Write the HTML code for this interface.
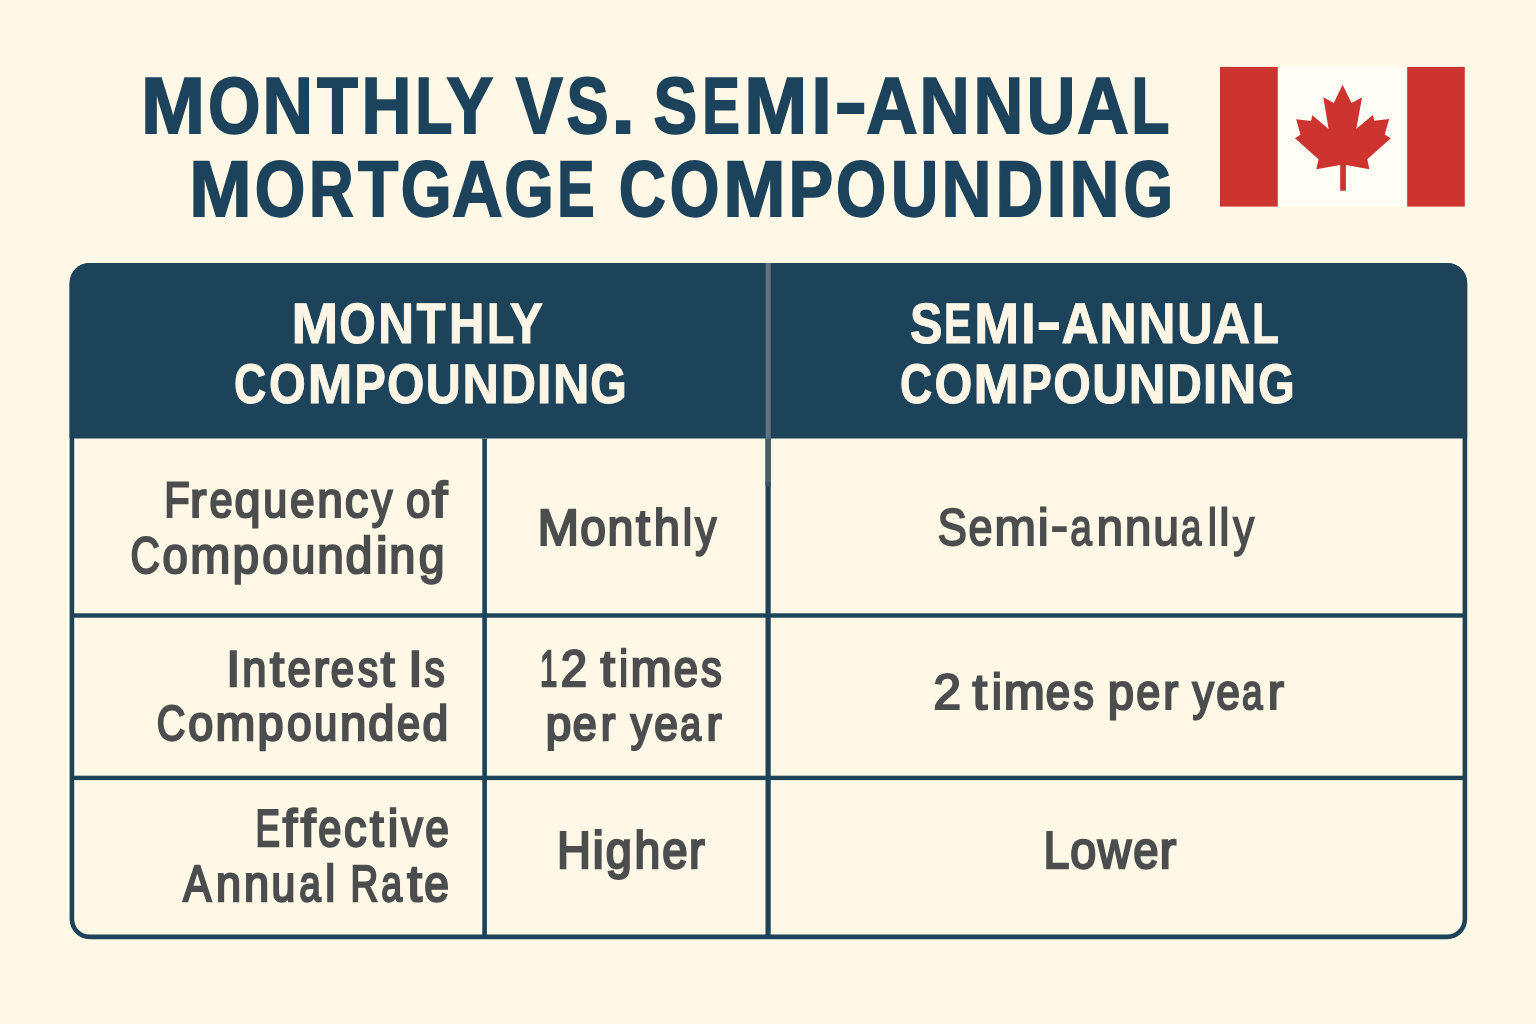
<!DOCTYPE html>
<html lang="en">
<head>
<meta charset="utf-8">
<title>Monthly vs. Semi-Annual Mortgage Compounding</title>
<style>
html,body{margin:0;padding:0;}
body{width:1536px;height:1024px;overflow:hidden;background:#fff8e6;position:relative;font-family:"Liberation Sans",sans-serif;}
#art{position:absolute;left:0;top:0;width:1536px;height:1024px;display:block;will-change:transform;transform:translateZ(0);}
#art text{font-family:"Liberation Sans",sans-serif;text-rendering:geometricPrecision;stroke-linejoin:miter;stroke-miterlimit:3;white-space:pre;}
</style>
</head>
<body>
<svg id="art" width="1536" height="1024" viewBox="0 0 1536 1024">
  <!-- table frame -->
  <rect x="71.9" y="265.3" width="1393" height="671.6" rx="17.8" ry="17.8" fill="#fff8e6" stroke="#1c4359" stroke-width="4.6"/>
  <!-- header band -->
  <path d="M69.6 438.6 V283 A20 20 0 0 1 89.6 263 H1447.2 A20 20 0 0 1 1467.2 283 V438.6 Z" fill="#1c4359"/>
  <!-- header divider (light) -->
  <rect x="765.6" y="263" width="5.2" height="175.6" fill="#5f727d"/>
  <!-- body dividers -->
  <rect x="482.3" y="438.6" width="4.6" height="498" fill="#1c4359"/>
  <rect x="765.5" y="438.6" width="5.2" height="498" fill="#1c4359"/>
  <rect x="765.5" y="438.6" width="5.2" height="44" fill="#4a6068"/>
  <rect x="765.5" y="482.6" width="5.2" height="4" fill="#33525f"/>
  <rect x="70" y="613.3" width="1396" height="4.4" fill="#1c4359"/>
  <rect x="70" y="775.7" width="1396" height="4.4" fill="#1c4359"/>
  <!-- flag -->
  <rect x="1220" y="66.9" width="244.8" height="139.7" fill="#fffef4"/>
  <rect x="1220" y="66.9" width="57.8" height="139.7" fill="#cd3430"/>
  <rect x="1407.2" y="66.9" width="57.6" height="139.7" fill="#cd3430"/>
  <polygon points="1342.6,84.8 1351.5,103.1 1362.1,97.2 1356.3,128.7 1372.9,115.0 1374.3,120.8 1389.2,118.9 1384.7,134.4 1390.8,138.2 1367.3,159.2 1369.4,169.2 1345.9,165.0 1345.9,190.7 1340.2,190.7 1340.2,165.0 1316.3,169.2 1318.5,159.2 1295.0,138.2 1300.5,134.8 1296.2,119.2 1311.1,121.1 1312.3,115.3 1328.6,129.0 1323.3,97.2 1333.8,103.1" fill="#cd3430"/>
  <!-- text -->
  <text y="133" font-size="79.58" font-weight="bold" fill="#1c435b" stroke="#1c435b" stroke-width="1.8"><tspan x="140.94" textLength="64.05" lengthAdjust="spacingAndGlyphs">M</tspan><tspan x="208.00" textLength="52.39" lengthAdjust="spacingAndGlyphs">O</tspan><tspan x="262.60" textLength="50.39" lengthAdjust="spacingAndGlyphs">N</tspan><tspan x="317.02" textLength="40.93" lengthAdjust="spacingAndGlyphs">T</tspan><tspan x="361.47" textLength="49.91" lengthAdjust="spacingAndGlyphs">H</tspan><tspan x="415.32" textLength="37.17" lengthAdjust="spacingAndGlyphs">L</tspan><tspan x="446.62" textLength="46.78" lengthAdjust="spacingAndGlyphs">Y</tspan></text>
  <text y="133" font-size="79.58" font-weight="bold" fill="#1c435b" stroke="#1c435b" stroke-width="1.8"><tspan x="515.79" textLength="47.11" lengthAdjust="spacingAndGlyphs">V</tspan><tspan x="566.43" textLength="42.03" lengthAdjust="spacingAndGlyphs">S</tspan><tspan x="611.05" textLength="24.34" lengthAdjust="spacingAndGlyphs">.</tspan></text>
  <text y="133" font-size="79.58" font-weight="bold" fill="#1c435b" stroke="#1c435b" stroke-width="1.8"><tspan x="653.54" textLength="43.66" lengthAdjust="spacingAndGlyphs">S</tspan><tspan x="702.16" textLength="37.62" lengthAdjust="spacingAndGlyphs">E</tspan><tspan x="744.13" textLength="63.02" lengthAdjust="spacingAndGlyphs">M</tspan><tspan x="811.61" textLength="20.00" lengthAdjust="spacingAndGlyphs">I</tspan><tspan x="834.50" y="129" textLength="32.52" lengthAdjust="spacingAndGlyphs">-</tspan><tspan x="866.16" y="133" textLength="51.37" lengthAdjust="spacingAndGlyphs">A</tspan><tspan x="919.45" textLength="50.26" lengthAdjust="spacingAndGlyphs">N</tspan><tspan x="973.45" textLength="49.79" lengthAdjust="spacingAndGlyphs">N</tspan><tspan x="1026.78" textLength="48.61" lengthAdjust="spacingAndGlyphs">U</tspan><tspan x="1077.16" textLength="51.40" lengthAdjust="spacingAndGlyphs">A</tspan><tspan x="1131.13" textLength="38.23" lengthAdjust="spacingAndGlyphs">L</tspan></text>
  <text y="216" font-size="79.00" font-weight="bold" fill="#1c435b" stroke="#1c435b" stroke-width="1.8"><tspan x="189.23" textLength="62.36" lengthAdjust="spacingAndGlyphs">M</tspan><tspan x="254.87" textLength="50.53" lengthAdjust="spacingAndGlyphs">O</tspan><tspan x="308.91" textLength="44.63" lengthAdjust="spacingAndGlyphs">R</tspan><tspan x="358.02" textLength="40.36" lengthAdjust="spacingAndGlyphs">T</tspan><tspan x="400.83" textLength="50.88" lengthAdjust="spacingAndGlyphs">G</tspan><tspan x="451.99" textLength="50.60" lengthAdjust="spacingAndGlyphs">A</tspan><tspan x="504.14" textLength="49.50" lengthAdjust="spacingAndGlyphs">G</tspan><tspan x="557.19" textLength="37.28" lengthAdjust="spacingAndGlyphs">E</tspan></text>
  <text y="216" font-size="79.00" font-weight="bold" fill="#1c435b" stroke="#1c435b" stroke-width="1.8"><tspan x="618.84" textLength="47.16" lengthAdjust="spacingAndGlyphs">C</tspan><tspan x="669.68" textLength="49.62" lengthAdjust="spacingAndGlyphs">O</tspan><tspan x="723.23" textLength="62.36" lengthAdjust="spacingAndGlyphs">M</tspan><tspan x="788.55" textLength="44.67" lengthAdjust="spacingAndGlyphs">P</tspan><tspan x="835.95" textLength="50.17" lengthAdjust="spacingAndGlyphs">O</tspan><tspan x="890.92" textLength="47.25" lengthAdjust="spacingAndGlyphs">U</tspan><tspan x="941.52" textLength="49.98" lengthAdjust="spacingAndGlyphs">N</tspan><tspan x="995.67" textLength="47.51" lengthAdjust="spacingAndGlyphs">D</tspan><tspan x="1046.54" textLength="19.97" lengthAdjust="spacingAndGlyphs">I</tspan><tspan x="1069.52" textLength="49.98" lengthAdjust="spacingAndGlyphs">N</tspan><tspan x="1123.48" textLength="49.57" lengthAdjust="spacingAndGlyphs">G</tspan></text>
  <text y="343" font-size="57.07" font-weight="bold" fill="#fdf6e6" stroke="#fdf6e6" stroke-width="1.0"><tspan x="291.41" textLength="46.82" lengthAdjust="spacingAndGlyphs">M</tspan><tspan x="339.18" textLength="36.52" lengthAdjust="spacingAndGlyphs">O</tspan><tspan x="378.35" textLength="35.80" lengthAdjust="spacingAndGlyphs">N</tspan><tspan x="416.47" textLength="29.13" lengthAdjust="spacingAndGlyphs">T</tspan><tspan x="448.89" textLength="35.42" lengthAdjust="spacingAndGlyphs">H</tspan><tspan x="486.91" textLength="27.30" lengthAdjust="spacingAndGlyphs">L</tspan><tspan x="509.66" textLength="33.15" lengthAdjust="spacingAndGlyphs">Y</tspan></text>
  <text y="403" font-size="55.77" font-weight="bold" fill="#fdf6e6" stroke="#fdf6e6" stroke-width="1.0"><tspan x="234.01" textLength="32.26" lengthAdjust="spacingAndGlyphs">C</tspan><tspan x="268.97" textLength="36.75" lengthAdjust="spacingAndGlyphs">O</tspan><tspan x="307.71" textLength="44.63" lengthAdjust="spacingAndGlyphs">M</tspan><tspan x="354.49" textLength="31.33" lengthAdjust="spacingAndGlyphs">P</tspan><tspan x="386.88" textLength="37.41" lengthAdjust="spacingAndGlyphs">O</tspan><tspan x="425.87" textLength="34.99" lengthAdjust="spacingAndGlyphs">U</tspan><tspan x="462.56" textLength="36.37" lengthAdjust="spacingAndGlyphs">N</tspan><tspan x="500.93" textLength="34.96" lengthAdjust="spacingAndGlyphs">D</tspan><tspan x="536.72" textLength="14.77" lengthAdjust="spacingAndGlyphs">I</tspan><tspan x="552.95" textLength="36.39" lengthAdjust="spacingAndGlyphs">N</tspan><tspan x="590.25" textLength="36.51" lengthAdjust="spacingAndGlyphs">G</tspan></text>
  <text y="343" font-size="57.07" font-weight="bold" fill="#fdf6e6" stroke="#fdf6e6" stroke-width="1.0"><tspan x="910.06" textLength="32.41" lengthAdjust="spacingAndGlyphs">S</tspan><tspan x="944.09" textLength="27.37" lengthAdjust="spacingAndGlyphs">E</tspan><tspan x="974.21" textLength="44.89" lengthAdjust="spacingAndGlyphs">M</tspan><tspan x="1021.22" textLength="14.39" lengthAdjust="spacingAndGlyphs">I</tspan><tspan x="1036.64" y="341" textLength="24.81" lengthAdjust="spacingAndGlyphs">-</tspan><tspan x="1061.62" y="343" textLength="37.13" lengthAdjust="spacingAndGlyphs">A</tspan><tspan x="1099.54" textLength="37.25" lengthAdjust="spacingAndGlyphs">N</tspan><tspan x="1138.81" textLength="36.72" lengthAdjust="spacingAndGlyphs">N</tspan><tspan x="1177.31" textLength="35.37" lengthAdjust="spacingAndGlyphs">U</tspan><tspan x="1212.27" textLength="37.86" lengthAdjust="spacingAndGlyphs">A</tspan><tspan x="1251.91" textLength="27.01" lengthAdjust="spacingAndGlyphs">L</tspan></text>
  <text y="403" font-size="55.77" font-weight="bold" fill="#fdf6e6" stroke="#fdf6e6" stroke-width="1.0"><tspan x="900.01" textLength="32.26" lengthAdjust="spacingAndGlyphs">C</tspan><tspan x="934.44" textLength="37.88" lengthAdjust="spacingAndGlyphs">O</tspan><tspan x="973.62" textLength="45.20" lengthAdjust="spacingAndGlyphs">M</tspan><tspan x="1020.97" textLength="30.85" lengthAdjust="spacingAndGlyphs">P</tspan><tspan x="1053.15" textLength="37.64" lengthAdjust="spacingAndGlyphs">O</tspan><tspan x="1092.34" textLength="35.00" lengthAdjust="spacingAndGlyphs">U</tspan><tspan x="1128.83" textLength="36.71" lengthAdjust="spacingAndGlyphs">N</tspan><tspan x="1167.48" textLength="34.43" lengthAdjust="spacingAndGlyphs">D</tspan><tspan x="1202.64" textLength="14.57" lengthAdjust="spacingAndGlyphs">I</tspan><tspan x="1219.26" textLength="37.04" lengthAdjust="spacingAndGlyphs">N</tspan><tspan x="1258.00" textLength="36.74" lengthAdjust="spacingAndGlyphs">G</tspan></text>
  <text y="517" font-size="49.96" font-weight="normal" fill="#4b4d4e" stroke="#4b4d4e" stroke-width="2.2"><tspan x="164.17" textLength="25.43" lengthAdjust="spacingAndGlyphs">F</tspan><tspan x="190.08" textLength="16.49" lengthAdjust="spacingAndGlyphs">r</tspan><tspan x="209.62" textLength="23.17" lengthAdjust="spacingAndGlyphs">e</tspan><tspan x="234.58" textLength="26.00" lengthAdjust="spacingAndGlyphs">q</tspan><tspan x="263.25" textLength="24.01" lengthAdjust="spacingAndGlyphs">u</tspan><tspan x="289.88" textLength="24.64" lengthAdjust="spacingAndGlyphs">e</tspan><tspan x="317.29" textLength="25.62" lengthAdjust="spacingAndGlyphs">n</tspan><tspan x="344.82" textLength="23.62" lengthAdjust="spacingAndGlyphs">c</tspan><tspan x="371.71" textLength="20.63" lengthAdjust="spacingAndGlyphs">y</tspan></text>
  <text y="517" font-size="49.96" font-weight="normal" fill="#4b4d4e" stroke="#4b4d4e" stroke-width="2.2"><tspan x="405.89" textLength="24.30" lengthAdjust="spacingAndGlyphs">o</tspan><tspan x="432.13" textLength="15.29" lengthAdjust="spacingAndGlyphs">f</tspan></text>
  <text y="573" font-size="51.41" font-weight="normal" fill="#4b4d4e" stroke="#4b4d4e" stroke-width="2.2"><tspan x="130.45" textLength="29.33" lengthAdjust="spacingAndGlyphs">C</tspan><tspan x="162.41" textLength="25.33" lengthAdjust="spacingAndGlyphs">o</tspan><tspan x="190.32" textLength="40.05" lengthAdjust="spacingAndGlyphs">m</tspan><tspan x="232.56" textLength="26.62" lengthAdjust="spacingAndGlyphs">p</tspan><tspan x="262.34" textLength="26.18" lengthAdjust="spacingAndGlyphs">o</tspan><tspan x="291.49" textLength="23.70" lengthAdjust="spacingAndGlyphs">u</tspan><tspan x="317.30" textLength="26.59" lengthAdjust="spacingAndGlyphs">n</tspan><tspan x="345.58" textLength="26.86" lengthAdjust="spacingAndGlyphs">d</tspan><tspan x="375.79" textLength="12.06" lengthAdjust="spacingAndGlyphs">i</tspan><tspan x="389.28" textLength="26.11" lengthAdjust="spacingAndGlyphs">n</tspan><tspan x="418.66" textLength="25.75" lengthAdjust="spacingAndGlyphs">g</tspan></text>
  <text y="545" font-size="50.97" font-weight="normal" fill="#4b4d4e" stroke="#4b4d4e" stroke-width="2.2"><tspan x="537.48" textLength="41.66" lengthAdjust="spacingAndGlyphs">M</tspan><tspan x="580.27" textLength="25.76" lengthAdjust="spacingAndGlyphs">o</tspan><tspan x="607.51" textLength="25.92" lengthAdjust="spacingAndGlyphs">n</tspan><tspan x="636.07" textLength="13.98" lengthAdjust="spacingAndGlyphs">t</tspan><tspan x="653.83" textLength="26.22" lengthAdjust="spacingAndGlyphs">h</tspan><tspan x="682.69" textLength="9.37" lengthAdjust="spacingAndGlyphs">l</tspan><tspan x="695.21" textLength="21.02" lengthAdjust="spacingAndGlyphs">y</tspan></text>
  <text y="545" font-size="51.99" font-weight="normal" fill="#4b4d4e" stroke="#4b4d4e" stroke-width="1.8"><tspan x="937.60" textLength="29.51" lengthAdjust="spacingAndGlyphs">S</tspan><tspan x="968.58" textLength="24.09" lengthAdjust="spacingAndGlyphs">e</tspan><tspan x="994.22" textLength="41.89" lengthAdjust="spacingAndGlyphs">m</tspan><tspan x="1037.49" textLength="11.46" lengthAdjust="spacingAndGlyphs">i</tspan><tspan x="1050.69" y="543" textLength="17.34" lengthAdjust="spacingAndGlyphs">-</tspan><tspan x="1070.20" y="545" textLength="21.66" lengthAdjust="spacingAndGlyphs">a</tspan><tspan x="1096.49" textLength="26.66" lengthAdjust="spacingAndGlyphs">n</tspan><tspan x="1124.73" textLength="26.74" lengthAdjust="spacingAndGlyphs">n</tspan><tspan x="1153.30" textLength="25.74" lengthAdjust="spacingAndGlyphs">u</tspan><tspan x="1181.09" textLength="20.35" lengthAdjust="spacingAndGlyphs">a</tspan><tspan x="1207.64" textLength="9.32" lengthAdjust="spacingAndGlyphs">l</tspan><tspan x="1219.35" textLength="10.26" lengthAdjust="spacingAndGlyphs">l</tspan><tspan x="1233.21" textLength="20.95" lengthAdjust="spacingAndGlyphs">y</tspan></text>
  <text y="686" font-size="50.46" font-weight="normal" fill="#4b4d4e" stroke="#4b4d4e" stroke-width="2.3"><tspan x="226.19" textLength="14.10" lengthAdjust="spacingAndGlyphs">I</tspan><tspan x="242.27" textLength="24.18" lengthAdjust="spacingAndGlyphs">n</tspan><tspan x="270.02" textLength="14.27" lengthAdjust="spacingAndGlyphs">t</tspan><tspan x="287.47" textLength="23.30" lengthAdjust="spacingAndGlyphs">e</tspan><tspan x="313.44" textLength="15.57" lengthAdjust="spacingAndGlyphs">r</tspan><tspan x="330.78" textLength="23.38" lengthAdjust="spacingAndGlyphs">e</tspan><tspan x="357.74" textLength="20.34" lengthAdjust="spacingAndGlyphs">s</tspan><tspan x="380.83" textLength="13.86" lengthAdjust="spacingAndGlyphs">t</tspan></text>
  <text y="686" font-size="50.46" font-weight="normal" fill="#4b4d4e" stroke="#4b4d4e" stroke-width="2.3"><tspan x="408.12" textLength="14.83" lengthAdjust="spacingAndGlyphs">I</tspan><tspan x="424.44" textLength="20.33" lengthAdjust="spacingAndGlyphs">s</tspan></text>
  <text y="740" font-size="49.16" font-weight="normal" fill="#4b4d4e" stroke="#4b4d4e" stroke-width="2.3"><tspan x="156.81" textLength="28.57" lengthAdjust="spacingAndGlyphs">C</tspan><tspan x="188.28" textLength="25.02" lengthAdjust="spacingAndGlyphs">o</tspan><tspan x="215.56" textLength="39.79" lengthAdjust="spacingAndGlyphs">m</tspan><tspan x="257.40" textLength="26.06" lengthAdjust="spacingAndGlyphs">p</tspan><tspan x="287.06" textLength="24.66" lengthAdjust="spacingAndGlyphs">o</tspan><tspan x="314.14" textLength="22.94" lengthAdjust="spacingAndGlyphs">u</tspan><tspan x="339.88" textLength="26.32" lengthAdjust="spacingAndGlyphs">n</tspan><tspan x="368.22" textLength="26.06" lengthAdjust="spacingAndGlyphs">d</tspan><tspan x="397.11" textLength="23.08" lengthAdjust="spacingAndGlyphs">e</tspan><tspan x="422.39" textLength="25.73" lengthAdjust="spacingAndGlyphs">d</tspan></text>
  <text y="686" font-size="51.19" font-weight="normal" fill="#4b4d4e" stroke="#4b4d4e" stroke-width="2.3"><tspan x="540.12" textLength="17.31" lengthAdjust="spacingAndGlyphs">1</tspan><tspan x="560.72" textLength="26.30" lengthAdjust="spacingAndGlyphs">2</tspan></text>
  <text y="686" font-size="51.19" font-weight="normal" fill="#4b4d4e" stroke="#4b4d4e" stroke-width="2.3"><tspan x="600.44" textLength="14.53" lengthAdjust="spacingAndGlyphs">t</tspan><tspan x="619.23" textLength="8.72" lengthAdjust="spacingAndGlyphs">i</tspan><tspan x="630.56" textLength="41.12" lengthAdjust="spacingAndGlyphs">m</tspan><tspan x="673.74" textLength="24.37" lengthAdjust="spacingAndGlyphs">e</tspan><tspan x="700.88" textLength="20.82" lengthAdjust="spacingAndGlyphs">s</tspan></text>
  <text y="740" font-size="47.71" font-weight="normal" fill="#4b4d4e" stroke="#4b4d4e" stroke-width="2.3"><tspan x="545.63" textLength="25.49" lengthAdjust="spacingAndGlyphs">p</tspan><tspan x="572.87" textLength="23.98" lengthAdjust="spacingAndGlyphs">e</tspan><tspan x="600.71" textLength="14.60" lengthAdjust="spacingAndGlyphs">r</tspan></text>
  <text y="740" font-size="47.71" font-weight="normal" fill="#4b4d4e" stroke="#4b4d4e" stroke-width="2.3"><tspan x="630.78" textLength="20.91" lengthAdjust="spacingAndGlyphs">y</tspan><tspan x="654.16" textLength="23.73" lengthAdjust="spacingAndGlyphs">e</tspan><tspan x="680.34" textLength="20.81" lengthAdjust="spacingAndGlyphs">a</tspan><tspan x="706.49" textLength="15.14" lengthAdjust="spacingAndGlyphs">r</tspan></text>
  <text y="709" font-size="50.17" font-weight="normal" fill="#4b4d4e" stroke="#4b4d4e" stroke-width="2.2"><tspan x="933.58" textLength="27.50" lengthAdjust="spacingAndGlyphs">2</tspan></text>
  <text y="709" font-size="50.17" font-weight="normal" fill="#4b4d4e" stroke="#4b4d4e" stroke-width="2.2"><tspan x="972.40" textLength="14.73" lengthAdjust="spacingAndGlyphs">t</tspan><tspan x="991.69" textLength="10.25" lengthAdjust="spacingAndGlyphs">i</tspan><tspan x="1003.64" textLength="41.00" lengthAdjust="spacingAndGlyphs">m</tspan><tspan x="1045.79" textLength="24.40" lengthAdjust="spacingAndGlyphs">e</tspan><tspan x="1073.26" textLength="20.63" lengthAdjust="spacingAndGlyphs">s</tspan></text>
  <text y="709" font-size="50.17" font-weight="normal" fill="#4b4d4e" stroke="#4b4d4e" stroke-width="2.2"><tspan x="1107.83" textLength="26.32" lengthAdjust="spacingAndGlyphs">p</tspan><tspan x="1136.33" textLength="24.04" lengthAdjust="spacingAndGlyphs">e</tspan><tspan x="1163.16" textLength="15.06" lengthAdjust="spacingAndGlyphs">r</tspan></text>
  <text y="709" font-size="50.17" font-weight="normal" fill="#4b4d4e" stroke="#4b4d4e" stroke-width="2.2"><tspan x="1192.45" textLength="21.41" lengthAdjust="spacingAndGlyphs">y</tspan><tspan x="1216.21" textLength="23.59" lengthAdjust="spacingAndGlyphs">e</tspan><tspan x="1242.11" textLength="20.54" lengthAdjust="spacingAndGlyphs">a</tspan><tspan x="1267.70" textLength="16.15" lengthAdjust="spacingAndGlyphs">r</tspan></text>
  <text y="846" font-size="51.99" font-weight="normal" fill="#4b4d4e" stroke="#4b4d4e" stroke-width="2.4"><tspan x="255.49" textLength="24.46" lengthAdjust="spacingAndGlyphs">E</tspan><tspan x="282.81" textLength="14.34" lengthAdjust="spacingAndGlyphs">f</tspan><tspan x="300.84" textLength="14.74" lengthAdjust="spacingAndGlyphs">f</tspan><tspan x="318.31" textLength="23.12" lengthAdjust="spacingAndGlyphs">e</tspan><tspan x="343.97" textLength="22.60" lengthAdjust="spacingAndGlyphs">c</tspan><tspan x="370.04" textLength="13.67" lengthAdjust="spacingAndGlyphs">t</tspan><tspan x="387.68" textLength="10.54" lengthAdjust="spacingAndGlyphs">i</tspan><tspan x="401.42" textLength="21.16" lengthAdjust="spacingAndGlyphs">v</tspan><tspan x="425.33" textLength="23.65" lengthAdjust="spacingAndGlyphs">e</tspan></text>
  <text y="901" font-size="50.97" font-weight="normal" fill="#4b4d4e" stroke="#4b4d4e" stroke-width="2.4"><tspan x="183.19" textLength="28.03" lengthAdjust="spacingAndGlyphs">A</tspan><tspan x="215.89" textLength="25.06" lengthAdjust="spacingAndGlyphs">n</tspan><tspan x="243.89" textLength="25.06" lengthAdjust="spacingAndGlyphs">n</tspan><tspan x="271.61" textLength="23.79" lengthAdjust="spacingAndGlyphs">u</tspan><tspan x="299.13" textLength="21.60" lengthAdjust="spacingAndGlyphs">a</tspan><tspan x="325.17" textLength="9.92" lengthAdjust="spacingAndGlyphs">l</tspan></text>
  <text y="901" font-size="50.97" font-weight="normal" fill="#4b4d4e" stroke="#4b4d4e" stroke-width="2.4"><tspan x="350.55" textLength="27.77" lengthAdjust="spacingAndGlyphs">R</tspan><tspan x="381.32" textLength="20.84" lengthAdjust="spacingAndGlyphs">a</tspan><tspan x="407.22" textLength="14.73" lengthAdjust="spacingAndGlyphs">t</tspan><tspan x="424.26" textLength="24.71" lengthAdjust="spacingAndGlyphs">e</tspan></text>
  <text y="868" font-size="52.13" font-weight="normal" fill="#4b4d4e" stroke="#4b4d4e" stroke-width="2.4"><tspan x="557.07" textLength="33.99" lengthAdjust="spacingAndGlyphs">H</tspan><tspan x="592.46" textLength="11.41" lengthAdjust="spacingAndGlyphs">i</tspan><tspan x="605.87" textLength="26.11" lengthAdjust="spacingAndGlyphs">g</tspan><tspan x="634.57" textLength="25.74" lengthAdjust="spacingAndGlyphs">h</tspan><tspan x="662.24" textLength="25.26" lengthAdjust="spacingAndGlyphs">e</tspan><tspan x="689.08" textLength="15.69" lengthAdjust="spacingAndGlyphs">r</tspan></text>
  <text y="868" font-size="52.28" font-weight="normal" fill="#4b4d4e" stroke="#4b4d4e" stroke-width="2.3"><tspan x="1043.56" textLength="25.94" lengthAdjust="spacingAndGlyphs">L</tspan><tspan x="1070.17" textLength="26.01" lengthAdjust="spacingAndGlyphs">o</tspan><tspan x="1097.77" textLength="33.39" lengthAdjust="spacingAndGlyphs">w</tspan><tspan x="1133.19" textLength="25.29" lengthAdjust="spacingAndGlyphs">e</tspan><tspan x="1159.51" textLength="16.77" lengthAdjust="spacingAndGlyphs">r</tspan></text>
</svg>
</body>
</html>
